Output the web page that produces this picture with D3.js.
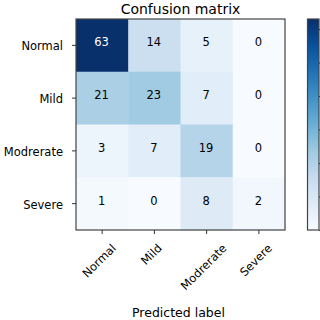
<!DOCTYPE html>
<html>
<head>
<meta charset="utf-8">
<script src="https://cdn.jsdelivr.net/npm/d3@7"></script>
<style>
html,body{margin:0;padding:0;background:#fff;}
svg{display:block;}
text{font-family:"DejaVu Sans",sans-serif;fill:#000;}
</style>
</head>
<body>
<svg id="chart" width="320" height="320"></svg>
<script>
const trueLabels = ["Normal", "Mild", "Modrerate", "Severe"];
const predLabels = ["Normal", "Mild", "Modrerate", "Severe"];
const matrix = [
  [63, 14, 5, 0],
  [21, 23, 7, 0],
  [3, 7, 19, 0],
  [1, 0, 8, 2]
];
const colorbarTicks = [0, 10, 20, 30, 40, 50, 60];
const title = "Confusion matrix";
const xTitle = "Predicted label";

const bluesStops = ["#f7fbff","#deebf7","#c6dbef","#9ecae1","#6baed6","#4292c6","#2171b5","#08519c","#08306b"];

(function(){
const svg = d3.select("#chart");
const mLeft = 76, mRight = 285, mTop = 19, mBottom = 230;
const vmax = d3.max(matrix.flat());
const vmin = 0;

const x = d3.scaleBand().domain(predLabels.map((d,i)=>i)).range([mLeft, mRight]).padding(0);
const y = d3.scaleBand().domain(trueLabels.map((d,i)=>i)).range([mTop, mBottom]).padding(0);

const norm = d3.scaleLinear().domain([vmin, vmax]).range([0, 1]);
const blues = d3.scaleLinear()
  .domain(bluesStops.map((d,i)=>i/(bluesStops.length-1)))
  .range(bluesStops)
  .interpolate(d3.interpolateRgb);
const color = v => blues(norm(v));

const cells = [];
matrix.forEach((row, r) => row.forEach((v, c) => cells.push({r, c, v})));

svg.append("g").selectAll("rect").data(cells).join("rect")
  .attr("x", d => x(d.c))
  .attr("y", d => y(d.r))
  .attr("width", x.bandwidth() + 0.5)
  .attr("height", y.bandwidth() + 0.5)
  .attr("fill", d => color(d.v));

const thresh = vmax / 2;
svg.append("g").selectAll("text").data(cells).join("text")
  .attr("x", d => x(d.c) + x.bandwidth()/2 - 0.5)
  .attr("y", d => y(d.r) + y.bandwidth()/2 - 3)
  .attr("text-anchor", "middle")
  .attr("dominant-baseline", "central")
  .style("font-size", "11.5px")
  .style("fill", d => d.v > thresh ? "#ffffff" : "#000000")
  .text(d => d.v);

svg.append("rect")
  .attr("x", mLeft).attr("y", mTop)
  .attr("width", mRight-mLeft).attr("height", mBottom-mTop)
  .attr("fill", "none").attr("stroke", "#444").attr("stroke-width", 1.2);

const yg = svg.append("g");
trueLabels.forEach((lab, i) => {
  const cy = y(i) + y.bandwidth()/2;
  yg.append("line").attr("x1", mLeft-4).attr("x2", mLeft).attr("y1", cy).attr("y2", cy)
    .attr("stroke", "#333").attr("stroke-width", 1);
  yg.append("text").attr("x", mLeft-13).attr("y", cy + 1)
    .attr("text-anchor", "end").attr("dominant-baseline", "central")
    .style("font-size", "11.5px").text(lab);
});

const xg = svg.append("g");
predLabels.forEach((lab, i) => {
  const cx = x(i) + x.bandwidth()/2;
  xg.append("line").attr("x1", cx).attr("x2", cx).attr("y1", mBottom).attr("y2", mBottom+4)
    .attr("stroke", "#333").attr("stroke-width", 1);
  const t = xg.append("text")
    .attr("text-anchor", "middle").attr("dominant-baseline", "central")
    .style("font-size", "11.5px").text(lab);
  const w = t.node().getComputedTextLength();
  const h = 11.5;
  const bh = (w + h) * Math.SQRT1_2;
  const boxTop = mBottom + 12;
  t.attr("transform", `translate(${cx - 3},${boxTop + bh/2}) rotate(-45)`);
});

svg.append("text").attr("x", (mLeft+mRight)/2).attr("y", 14)
  .attr("text-anchor", "middle").style("font-size", "14px").text(title);

svg.append("text").attr("x", (mLeft+mRight)/2 - 2).attr("y", 317)
  .attr("text-anchor", "middle").style("font-size", "12.5px").text(xTitle);

const cbLeft = 307.5, cbWidth = 11.5;
const defs = svg.append("defs");
const grad = defs.append("linearGradient").attr("id", "cbgrad")
  .attr("x1", "0").attr("y1", "1").attr("x2", "0").attr("y2", "0");
bluesStops.forEach((c, i) => {
  grad.append("stop").attr("offset", (i/(bluesStops.length-1))).attr("stop-color", c);
});
const cbScale = d3.scaleLinear().domain([vmin, vmax]).range([mBottom, mTop]);
svg.append("rect").attr("x", cbLeft).attr("y", mTop)
  .attr("width", cbWidth).attr("height", mBottom-mTop)
  .attr("fill", "url(#cbgrad)").attr("stroke", "#444").attr("stroke-width", 1.2);
const cbAxis = d3.axisRight(cbScale).tickValues(colorbarTicks).tickSize(4).tickFormat("");
const cbg = svg.append("g").attr("transform", `translate(${cbLeft + cbWidth},0)`).call(cbAxis);
cbg.select(".domain").remove();
cbg.selectAll("text").remove();
cbg.selectAll("line").attr("stroke", "#333");
})();
</script>
</body>
</html>
